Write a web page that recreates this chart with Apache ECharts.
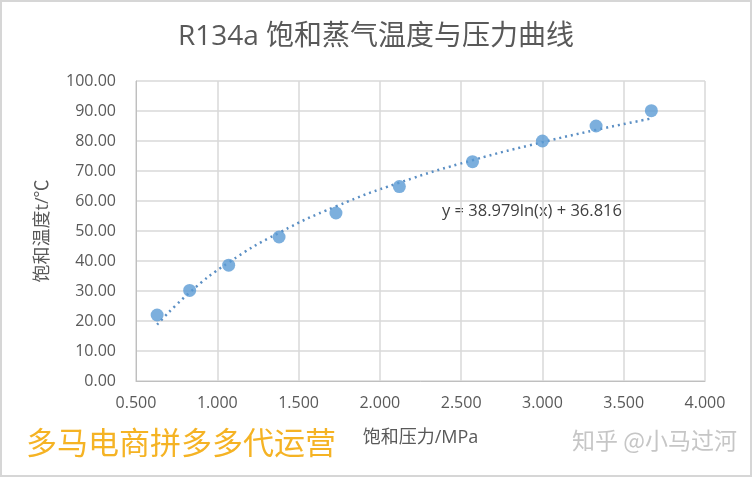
<!DOCTYPE html>
<html>
<head>
<meta charset="utf-8">
<script src="https://cdn.jsdelivr.net/npm/echarts@6/dist/echarts.min.js"></script>
<style>
  html, body { margin: 0; padding: 0; background: #fff; }
  #chart { width: 752px; height: 477px; box-sizing: border-box; border: 2px solid #d6d6d6; }
</style>
</head>
<body>
<div id="chart"></div>
<script>
// 饱和压力 MPa / 饱和温度 ℃
var pressure = [0.63, 0.83, 1.07, 1.38, 1.73, 2.12, 2.57, 3.00, 3.33, 3.67]
var temperature = [22.0, 30.2, 38.6, 48.0, 56.0, 64.8, 73.1, 80.0, 85.0, 90.1]
// 趋势线 (dotted) values at the same pressures
var trendTemp = [18.8, 29.5, 39.5, 49.4, 58.2, 66.1, 73.6, 79.6, 83.7, 87.5]

var xTicks = { min: 0.5, max: 4.0, interval: 0.5 }
var yTicks = { min: 0, max: 100, interval: 10 }

var titleText = 'R134a 饱和蒸气温度与压力曲线'
var equationText = 'y = 38.979ln(x) + 36.816'

var font = '"Open Sans", "Noto Sans CJK SC", sans-serif'

var chart = echarts.init(document.getElementById('chart'))

chart.setOption({
  backgroundColor: '#fff',
  animation: false,
  title: {
    text: titleText,
    left: 'center',
    top: 16,
    textStyle: { fontFamily: font, fontSize: 28, fontWeight: 'normal', color: '#595959' }
  },
  grid: { left: 134, right: 45, top: 79, bottom: 94 },
  xAxis: {
    type: 'value',
    min: xTicks.min,
    max: xTicks.max,
    interval: xTicks.interval,
    name: '饱和压力/MPa',
    nameLocation: 'middle',
    nameGap: 48,
    nameTextStyle: { fontFamily: font, fontSize: 18, color: '#595959' },
    axisLine: { show: true, lineStyle: { color: '#bfbfbf', width: 1 } },
    axisTick: { show: false },
    axisLabel: {
      fontFamily: font, fontSize: 16, color: '#595959', margin: 14,
      formatter: function (v) { return v.toFixed(3) }
    },
    splitLine: { show: true, lineStyle: { color: '#d9d9d9', width: 1.5 } }
  },
  yAxis: {
    type: 'value',
    min: yTicks.min,
    max: yTicks.max,
    interval: yTicks.interval,
    name: '饱和温度t/℃',
    nameLocation: 'middle',
    nameGap: 84,
    nameTextStyle: { fontFamily: font, fontSize: 18, color: '#595959' },
    axisLine: { show: true, lineStyle: { color: '#bfbfbf', width: 1 } },
    axisTick: { show: false },
    axisLabel: {
      fontFamily: font, fontSize: 16, color: '#595959', margin: 20,
      formatter: function (v) { return v.toFixed(2) }
    },
    splitLine: { show: true, lineStyle: { color: '#d9d9d9', width: 1.5 } }
  },
  series: [
    {
      name: 'trend',
      type: 'line',
      smooth: true,
      symbol: 'none',
      data: pressure.map(function (p, i) { return [p, trendTemp[i]] }),
      lineStyle: { color: '#5b8fc4', width: 2.5, type: [2, 4] },
      z: 2
    },
    {
      name: 'data',
      type: 'scatter',
      symbol: 'circle',
      symbolSize: 13,
      data: pressure.map(function (p, i) { return [p, temperature[i]] }),
      itemStyle: { color: '#5b9bd5' },
      z: 3
    }
  ],
  graphic: [
    {
      type: 'text', left: 440, top: 201,
      style: { text: equationText, font: '16.5px ' + font, fill: '#404040' }
    },
    {
      type: 'text', left: 24, top: 425,
      style: { text: '多马电商拼多多代运营', font: '31px "Noto Sans CJK SC"', fill: '#f5b324' }
    },
    {
      type: 'text', left: 570, top: 427,
      style: { text: '知乎 @小马过河', font: '23px "Noto Sans CJK SC"', fill: '#c6c6c6' }
    }
  ]
})
</script>
</body>
</html>
